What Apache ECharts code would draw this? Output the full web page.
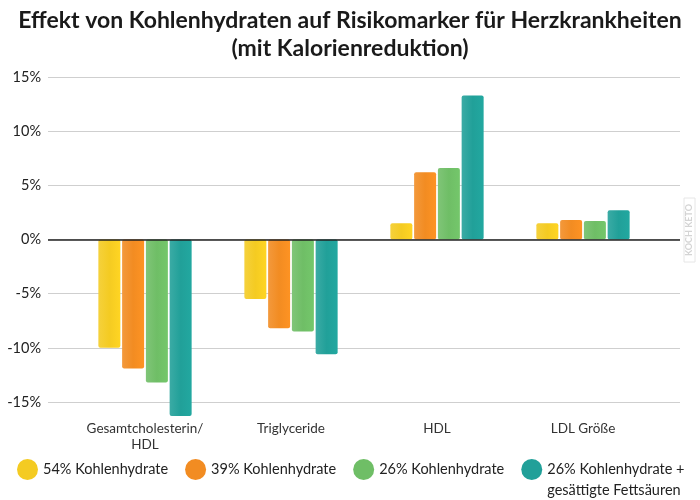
<!DOCTYPE html>
<html><head><meta charset="utf-8">
<script src="https://cdn.jsdelivr.net/npm/echarts@6/dist/echarts.min.js"></script>
<style>html,body{margin:0;padding:0;background:#fff}#c{width:700px;height:500px}</style>
</head><body><div id="c"></div>
<script>
const categories = ['Gesamtcholesterin/\nHDL', 'Triglyceride', 'HDL', 'LDL Größe'];
const seriesNames = ['54% Kohlenhydrate', '39% Kohlenhydrate', '26% Kohlenhydrate', '26% Kohlenhydrate +\ngesättigte Fettsäuren'];
const carbs54 = [-10.0, -5.5, 1.5, 1.5];
const carbs39 = [-11.9, -8.2, 6.2, 1.8];
const carbs26 = [-13.2, -8.5, 6.6, 1.7];
const carbs26Sat = [-16.3, -10.6, 13.3, 2.7];
const yTicks = [-15, -10, -5, 0, 5, 10, 15];
const colors = ['#F4CB22', '#F28C22', '#6FBE66', '#21A099'];

const FONT = 'Lato, "Open Sans", sans-serif';
const chart = echarts.init(document.getElementById('c'), null, {renderer: 'canvas'});
const values = [carbs54, carbs39, carbs26, carbs26Sat];
function grad(c) {
  return new echarts.graphic.LinearGradient(0, 0, 1, 0, [
    {offset: 0, color: echarts.color.lift(c, 0.12)},
    {offset: 0.5, color: c},
    {offset: 1, color: echarts.color.lift(c, -0.05)}
  ]);
}
chart.setOption({
  backgroundColor: '#fff',
  animation: false,
  title: {
    text: 'Effekt von Kohlenhydraten auf Risikomarker für Herzkrankheiten\n(mit Kalorienreduktion)',
    left: 'center', top: 2,
    textStyle: {fontFamily: FONT, fontWeight: 'bold', fontSize: 23, color: '#1a1a1a', lineHeight: 28}
  },
  legend: {
    top: 433, left: 12, itemGap: 17,
    icon: 'circle', itemWidth: 21, itemHeight: 21,
    formatter: name => name.indexOf('\n') >= 0 ? '\n' + name : name,
    textStyle: {fontFamily: FONT, fontSize: 14.5, color: '#222', lineHeight: 21},
    data: seriesNames.map((n, i) => ({name: n, itemStyle: {color: colors[i]}}))
  },
  grid: [
    {left: 48, right: 20, top: 77, bottom: 98, outerBoundsMode: 'none'},
    {left: 72, right: 44, top: 77, bottom: 98, outerBoundsMode: 'none'}
  ],
  xAxis: [
    {type: 'category', gridIndex: 0, data: categories, show: false},
    {type: 'category', gridIndex: 1, data: categories,
     axisLine: {show: false, onZero: false}, axisTick: {show: false},
     axisLabel: {interval: 0, fontFamily: FONT, fontSize: 13.5, color: '#333', margin: 19, lineHeight: 16}}
  ],
  yAxis: [
    {type: 'value', gridIndex: 0, min: -15, max: 15, interval: 5,
     axisLine: {show: false}, axisTick: {show: false},
     axisLabel: {fontFamily: FONT, fontSize: 14.5, color: '#222', margin: 7, formatter: v => yTicks.includes(v) ? v + '%' : ''},
     splitLine: {lineStyle: {color: '#cfcfcf', width: 1}}},
    {type: 'value', gridIndex: 1, min: -15, max: 15, interval: 5, show: false, splitLine: {show: false}}
  ],
  series: [
    {type: 'line', xAxisIndex: 0, yAxisIndex: 0, data: [], silent: true,
     markLine: {silent: true, symbol: 'none', label: {show: false},
       lineStyle: {color: '#222', width: 1.5, type: 'solid'}, data: [{yAxis: 0}]}},
    ...values.map((v, i) => ({
      name: seriesNames[i], type: 'bar', xAxisIndex: 1, yAxisIndex: 1,
      data: v, barWidth: 22, barGap: '8%', clip: false,
      itemStyle: {color: grad(colors[i]), borderRadius: 2}
    }))
  ],
  graphic: [
    {type: 'rect', shape: {x: 684, y: 198, width: 11, height: 64}, style: {fill: 'none', stroke: '#e6e6e6', lineWidth: 1}},
    {type: 'text', x: 689.5, y: 230, rotation: Math.PI / 2,
     style: {text: 'KOCH KETO', fontFamily: FONT, fontSize: 9, fontWeight: 'bold', fill: '#d4d4d4', align: 'center', verticalAlign: 'middle'}}
  ]
});
</script></body></html>
